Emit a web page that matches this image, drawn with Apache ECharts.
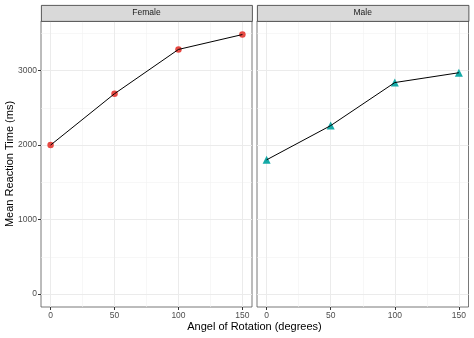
<!DOCTYPE html>
<html>
<head>
<meta charset="utf-8">
<script src="https://cdn.jsdelivr.net/npm/echarts@6/dist/echarts.min.js"></script>
<style>html,body{margin:0;padding:0;background:#fff}#c{width:474px;height:338px}</style>
</head>
<body>
<div id="c"></div>
<script>
// Data
const angles = [0, 50, 100, 150];
const panels = ['Female', 'Male'];
const femaleRT = [2000, 2690, 3285, 3485];
const maleRT = [1802, 2262, 2840, 2972];
const xTicks = [0, 50, 100, 150];
const xMinorTicks = [25, 75, 125];
const yTicks = [0, 1000, 2000, 3000];
const yMinorTicks = [500, 1500, 2500, 3500];

const FONT = 'Liberation Sans, Arial, sans-serif';
const grids = [
  {left: 41, top: 21, width: 211, height: 286},
  {left: 257, top: 21, width: 211.5, height: 286}
];

function gridLines() {
  const data = [];
  xMinorTicks.forEach(v => data.push({xAxis: v, lineStyle: {color: '#F2F2F2', width: 0.6}}));
  yMinorTicks.forEach(v => data.push({yAxis: v, lineStyle: {color: '#F2F2F2', width: 0.6}}));
  xTicks.forEach(v => data.push({xAxis: v, lineStyle: {color: '#EBEBEB', width: 1}}));
  yTicks.forEach(v => data.push({yAxis: v, lineStyle: {color: '#EBEBEB', width: 1}}));
  return {silent: true, symbol: 'none', z: 0, label: {show: false}, lineStyle: {type: 'solid'}, animation: false, data};
}

const xAxes = grids.map((g, i) => ({
  type: 'value', gridIndex: i, min: -7.5, max: 157.5, position: 'bottom',
  axisLine: {show: false, onZero: false},
  axisTick: {show: true, length: 3, lineStyle: {color: '#333'}, customValues: xTicks},
  axisLabel: {customValues: xTicks, color: '#4D4D4D', fontSize: 8.5, fontFamily: FONT, margin: 4},
  splitLine: {show: false}
}));
const yAxes = grids.map((g, i) => ({
  type: 'value', gridIndex: i, min: -175, max: 3667, position: 'left',
  axisLine: {show: false, onZero: false},
  axisTick: {show: i === 0, length: 3, lineStyle: {color: '#333'}, customValues: yTicks},
  axisLabel: {show: i === 0, customValues: yTicks, color: '#4D4D4D', fontSize: 8.5, fontFamily: FONT, margin: 4,
    formatter: v => String(v)},
  splitLine: {show: false}
}));

const values = [femaleRT, maleRT];
const colors = ['#E64A44', '#14AAA7'];
const symbols = ['circle', 'triangle'];
const sizes = [6.5, 8];
const series = [];
values.forEach((vals, i) => {
  const pts = angles.map((a, k) => [a, vals[k]]);
  series.push({
    type: 'line', xAxisIndex: i, yAxisIndex: i, data: [], z: 0,
    markLine: gridLines(), animation: false, silent: true
  });
  series.push({
    type: 'scatter', xAxisIndex: i, yAxisIndex: i, data: pts, z: 5,
    symbol: symbols[i], symbolSize: sizes[i],
    itemStyle: {color: colors[i], opacity: 1},
    animation: false, silent: true
  });
  series.push({
    type: 'line', xAxisIndex: i, yAxisIndex: i, data: pts, z: 6,
    showSymbol: false, symbol: 'none',
    lineStyle: {color: '#000', width: 1}, animation: false, silent: true
  });
});

const graphic = [];
grids.forEach((g, i) => {
  graphic.push({
    type: 'rect', left: g.left, top: 5, z: 10,
    shape: {x: 0, y: 0, width: g.width, height: 16},
    style: {fill: '#D9D9D9', stroke: '#333', lineWidth: 0.8}
  });
  graphic.push({
    type: 'text', x: g.left + g.width / 2, y: 13, z: 11,
    style: {text: panels[i], font: '8.5px ' + FONT, fill: '#1A1A1A', textAlign: 'center', textVerticalAlign: 'middle'}
  });
});
graphic.push({
  type: 'text', x: 254.5, y: 327, z: 11,
  style: {text: 'Angel of Rotation (degrees)', font: '11px ' + FONT, fill: '#000', textAlign: 'center', textVerticalAlign: 'middle'}
});
graphic.push({
  type: 'text', x: 10, y: 164, rotation: Math.PI / 2, z: 11,
  style: {text: 'Mean Reaction Time (ms)', font: '11px ' + FONT, fill: '#000', textAlign: 'center', textVerticalAlign: 'middle'}
});

const chart = echarts.init(document.getElementById('c'), null, {renderer: 'canvas'});
chart.setOption({
  animation: false,
  backgroundColor: '#fff',
  grid: grids.map(g => Object.assign({show: true, borderColor: '#555', borderWidth: 0.8, backgroundColor: '#fff', containLabel: false}, g)),
  xAxis: xAxes,
  yAxis: yAxes,
  series,
  graphic
});
</script>
</body>
</html>
